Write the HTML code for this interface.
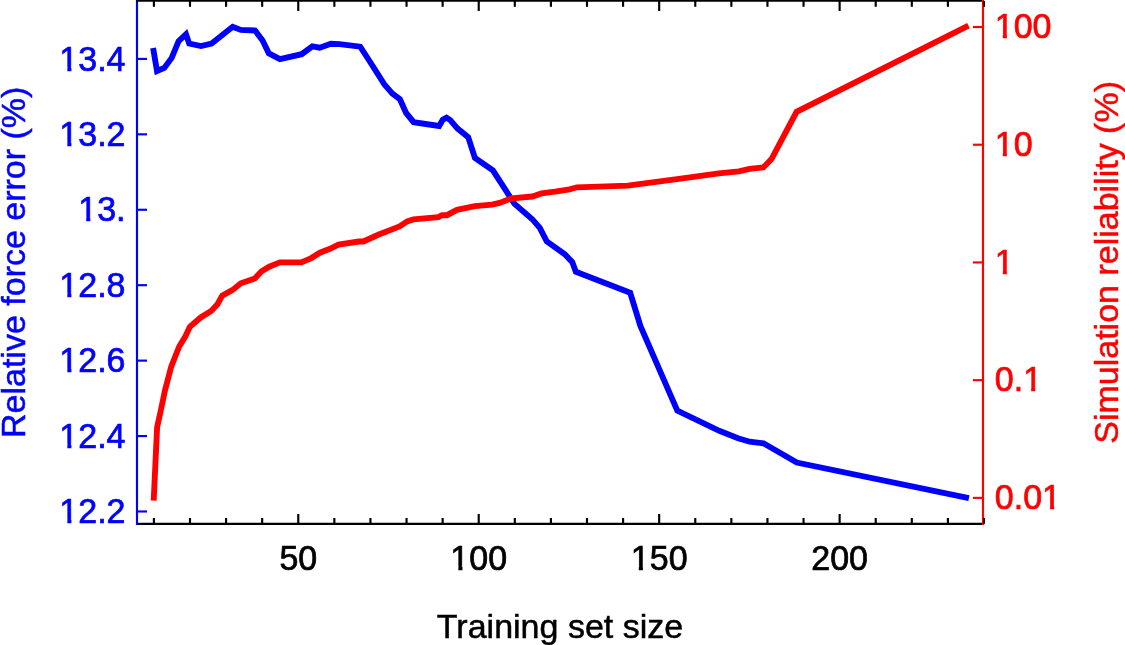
<!DOCTYPE html>
<html><head><meta charset="utf-8"><title>Training set size chart</title>
<style>
html,body{margin:0;padding:0;background:#fff;}
body{width:1125px;height:645px;overflow:hidden;}
svg{display:block;font-family:"Liberation Sans",Arial,Helvetica,sans-serif;}
</style></head><body>
<svg width="1125" height="645" viewBox="0 0 1125 645">
<rect x="0" y="0" width="1125" height="645" fill="#fff"/>
<line x1="136" y1="523.8" x2="984" y2="523.8" stroke="#000" stroke-width="2.15"/>
<line x1="153.90" y1="523.8" x2="153.90" y2="518.0" stroke="#000" stroke-width="2.15"/>
<line x1="189.99" y1="523.8" x2="189.99" y2="518.0" stroke="#000" stroke-width="2.15"/>
<line x1="226.08" y1="523.8" x2="226.08" y2="518.0" stroke="#000" stroke-width="2.15"/>
<line x1="262.17" y1="523.8" x2="262.17" y2="518.0" stroke="#000" stroke-width="2.15"/>
<line x1="298.26" y1="523.8" x2="298.26" y2="514.0" stroke="#000" stroke-width="2.15"/>
<line x1="334.36" y1="523.8" x2="334.36" y2="518.0" stroke="#000" stroke-width="2.15"/>
<line x1="370.45" y1="523.8" x2="370.45" y2="518.0" stroke="#000" stroke-width="2.15"/>
<line x1="406.54" y1="523.8" x2="406.54" y2="518.0" stroke="#000" stroke-width="2.15"/>
<line x1="442.63" y1="523.8" x2="442.63" y2="518.0" stroke="#000" stroke-width="2.15"/>
<line x1="478.72" y1="523.8" x2="478.72" y2="514.0" stroke="#000" stroke-width="2.15"/>
<line x1="514.81" y1="523.8" x2="514.81" y2="518.0" stroke="#000" stroke-width="2.15"/>
<line x1="550.90" y1="523.8" x2="550.90" y2="518.0" stroke="#000" stroke-width="2.15"/>
<line x1="586.99" y1="523.8" x2="586.99" y2="518.0" stroke="#000" stroke-width="2.15"/>
<line x1="623.08" y1="523.8" x2="623.08" y2="518.0" stroke="#000" stroke-width="2.15"/>
<line x1="659.17" y1="523.8" x2="659.17" y2="514.0" stroke="#000" stroke-width="2.15"/>
<line x1="695.26" y1="523.8" x2="695.26" y2="518.0" stroke="#000" stroke-width="2.15"/>
<line x1="731.36" y1="523.8" x2="731.36" y2="518.0" stroke="#000" stroke-width="2.15"/>
<line x1="767.45" y1="523.8" x2="767.45" y2="518.0" stroke="#000" stroke-width="2.15"/>
<line x1="803.54" y1="523.8" x2="803.54" y2="518.0" stroke="#000" stroke-width="2.15"/>
<line x1="839.63" y1="523.8" x2="839.63" y2="514.0" stroke="#000" stroke-width="2.15"/>
<line x1="875.72" y1="523.8" x2="875.72" y2="518.0" stroke="#000" stroke-width="2.15"/>
<line x1="911.81" y1="523.8" x2="911.81" y2="518.0" stroke="#000" stroke-width="2.15"/>
<line x1="947.90" y1="523.8" x2="947.90" y2="518.0" stroke="#000" stroke-width="2.15"/>
<line x1="137" y1="0" x2="137" y2="524.9" stroke="#0000ff" stroke-width="2.15"/>
<line x1="136" y1="0.7" x2="982" y2="0.7" stroke="#000" stroke-width="2.15"/>
<line x1="153.90" y1="0.7" x2="153.90" y2="6.8" stroke="#000" stroke-width="2.15"/>
<line x1="189.99" y1="0.7" x2="189.99" y2="6.8" stroke="#000" stroke-width="2.15"/>
<line x1="226.08" y1="0.7" x2="226.08" y2="6.8" stroke="#000" stroke-width="2.15"/>
<line x1="262.17" y1="0.7" x2="262.17" y2="6.8" stroke="#000" stroke-width="2.15"/>
<line x1="298.26" y1="0.7" x2="298.26" y2="11.0" stroke="#000" stroke-width="2.15"/>
<line x1="334.36" y1="0.7" x2="334.36" y2="6.8" stroke="#000" stroke-width="2.15"/>
<line x1="370.45" y1="0.7" x2="370.45" y2="6.8" stroke="#000" stroke-width="2.15"/>
<line x1="406.54" y1="0.7" x2="406.54" y2="6.8" stroke="#000" stroke-width="2.15"/>
<line x1="442.63" y1="0.7" x2="442.63" y2="6.8" stroke="#000" stroke-width="2.15"/>
<line x1="478.72" y1="0.7" x2="478.72" y2="11.0" stroke="#000" stroke-width="2.15"/>
<line x1="514.81" y1="0.7" x2="514.81" y2="6.8" stroke="#000" stroke-width="2.15"/>
<line x1="550.90" y1="0.7" x2="550.90" y2="6.8" stroke="#000" stroke-width="2.15"/>
<line x1="586.99" y1="0.7" x2="586.99" y2="6.8" stroke="#000" stroke-width="2.15"/>
<line x1="623.08" y1="0.7" x2="623.08" y2="6.8" stroke="#000" stroke-width="2.15"/>
<line x1="659.17" y1="0.7" x2="659.17" y2="11.0" stroke="#000" stroke-width="2.15"/>
<line x1="695.26" y1="0.7" x2="695.26" y2="6.8" stroke="#000" stroke-width="2.15"/>
<line x1="731.36" y1="0.7" x2="731.36" y2="6.8" stroke="#000" stroke-width="2.15"/>
<line x1="767.45" y1="0.7" x2="767.45" y2="6.8" stroke="#000" stroke-width="2.15"/>
<line x1="803.54" y1="0.7" x2="803.54" y2="6.8" stroke="#000" stroke-width="2.15"/>
<line x1="839.63" y1="0.7" x2="839.63" y2="11.0" stroke="#000" stroke-width="2.15"/>
<line x1="875.72" y1="0.7" x2="875.72" y2="6.8" stroke="#000" stroke-width="2.15"/>
<line x1="911.81" y1="0.7" x2="911.81" y2="6.8" stroke="#000" stroke-width="2.15"/>
<line x1="947.90" y1="0.7" x2="947.90" y2="6.8" stroke="#000" stroke-width="2.15"/>
<line x1="137" y1="58.90" x2="147" y2="58.90" stroke="#0000ff" stroke-width="2.15"/>
<line x1="137" y1="134.33" x2="147" y2="134.33" stroke="#0000ff" stroke-width="2.15"/>
<line x1="137" y1="209.76" x2="147" y2="209.76" stroke="#0000ff" stroke-width="2.15"/>
<line x1="137" y1="285.19" x2="147" y2="285.19" stroke="#0000ff" stroke-width="2.15"/>
<line x1="137" y1="360.62" x2="147" y2="360.62" stroke="#0000ff" stroke-width="2.15"/>
<line x1="137" y1="436.05" x2="147" y2="436.05" stroke="#0000ff" stroke-width="2.15"/>
<line x1="137" y1="511.48" x2="147" y2="511.48" stroke="#0000ff" stroke-width="2.15"/>
<line x1="983" y1="0" x2="983" y2="524.9" stroke="#ff0000" stroke-width="2.15"/>
<line x1="973" y1="27.00" x2="983" y2="27.00" stroke="#ff0000" stroke-width="2.15"/>
<line x1="973" y1="144.72" x2="983" y2="144.72" stroke="#ff0000" stroke-width="2.15"/>
<line x1="973" y1="262.44" x2="983" y2="262.44" stroke="#ff0000" stroke-width="2.15"/>
<line x1="973" y1="380.16" x2="983" y2="380.16" stroke="#ff0000" stroke-width="2.15"/>
<line x1="973" y1="497.88" x2="983" y2="497.88" stroke="#ff0000" stroke-width="2.15"/>
<line x1="984.1" y1="1.1" x2="984.1" y2="6.8" stroke="#000" stroke-width="1.9"/>
<line x1="984.1" y1="518" x2="984.1" y2="523.8" stroke="#000" stroke-width="1.9"/>
<path d="M153.1,48.0 L157.0,71.0 L164.3,67.9 L171.7,57.9 L178.6,41.1 L186.0,34.3 L189.2,43.6 L201.0,46.1 L211.6,43.6 L232.7,26.8 L240.8,29.9 L255.1,30.5 L262.6,40.5 L268.8,53.3 L279.9,59.2 L301.7,54.2 L312.3,46.3 L319.7,47.7 L330.9,43.8 L339.6,44.2 L360.2,46.7 L369.5,61.0 L384.3,84.3 L392.4,93.6 L399.9,99.2 L406.1,112.9 L413.6,122.2 L439.1,126.0 L442.8,119.7 L446.5,117.6 L450.3,120.1 L457.3,128.3 L468.2,137.2 L474.9,158.0 L492.9,170.4 L500.2,181.7 L514.3,203.6 L532.3,219.2 L539.8,227.9 L546.7,241.4 L564.8,254.3 L572.3,262.1 L575.8,271.7 L630.2,292.8 L640.4,325.9 L677.3,410.6 L719.3,430.8 L738.0,438.2 L749.7,441.7 L763.5,443.3 L796.8,462.5 L968.9,498.1" fill="none" stroke="#0000ff" stroke-width="5.85" stroke-linejoin="miter" stroke-miterlimit="4"/>
<path d="M153.7,500.7 L157.1,427.3 L161.1,409.0 L165.1,389.9 L171.2,366.7 L179.2,346.5 L185.3,336.5 L189.9,326.8 L200.4,317.7 L211.5,310.8 L217.5,304.2 L222.2,295.7 L232.7,289.9 L240.8,283.3 L254.8,278.5 L261.6,271.3 L269.3,266.7 L279.9,262.4 L301.4,262.4 L311.3,258.1 L319.9,252.7 L330.0,248.8 L338.5,244.6 L358.8,241.5 L363.4,241.5 L378.2,234.8 L399.6,226.4 L407.2,221.4 L413.4,219.4 L438.3,217.2 L442.2,215.2 L446.9,215.2 L457.0,209.8 L474.9,206.1 L492.0,204.6 L499.6,202.9 L511.5,198.4 L532.4,196.5 L541.5,193.4 L555.0,191.6 L569.5,189.3 L576.9,187.3 L627.8,185.7 L678.9,178.9 L718.9,173.3 L738.9,171.3 L749.5,168.8 L763.5,167.3 L771.5,159.0 L796.6,111.8 L968.5,25.7" fill="none" stroke="#ff0000" stroke-width="5.85" stroke-linejoin="miter" stroke-miterlimit="4"/>
<text transform="translate(125.5,70.5) scale(1,1.035)" text-anchor="end" fill="#0000ff" stroke="#0000ff" stroke-width="0.7" font-size="34">13.4</text>
<rect x="60.77" y="66.92" width="6.56" height="5.73" fill="#fff"/>
<rect x="71.43" y="66.92" width="6.29" height="5.73" fill="#fff"/>
<text transform="translate(125.5,145.9) scale(1,1.035)" text-anchor="end" fill="#0000ff" stroke="#0000ff" stroke-width="0.7" font-size="34">13.2</text>
<rect x="60.77" y="142.35" width="6.56" height="5.73" fill="#fff"/>
<rect x="71.43" y="142.35" width="6.29" height="5.73" fill="#fff"/>
<text transform="translate(125.5,221.4) scale(1,1.035)" text-anchor="end" fill="#0000ff" stroke="#0000ff" stroke-width="0.7" font-size="34">13.</text>
<rect x="79.68" y="217.78" width="6.56" height="5.73" fill="#fff"/>
<rect x="90.34" y="217.78" width="6.29" height="5.73" fill="#fff"/>
<text transform="translate(125.5,296.8) scale(1,1.035)" text-anchor="end" fill="#0000ff" stroke="#0000ff" stroke-width="0.7" font-size="34">12.8</text>
<rect x="60.77" y="293.21" width="6.56" height="5.73" fill="#fff"/>
<rect x="71.43" y="293.21" width="6.29" height="5.73" fill="#fff"/>
<text transform="translate(125.5,372.2) scale(1,1.035)" text-anchor="end" fill="#0000ff" stroke="#0000ff" stroke-width="0.7" font-size="34">12.6</text>
<rect x="60.77" y="368.64" width="6.56" height="5.73" fill="#fff"/>
<rect x="71.43" y="368.64" width="6.29" height="5.73" fill="#fff"/>
<text transform="translate(125.5,447.7) scale(1,1.035)" text-anchor="end" fill="#0000ff" stroke="#0000ff" stroke-width="0.7" font-size="34">12.4</text>
<rect x="60.77" y="444.07" width="6.56" height="5.73" fill="#fff"/>
<rect x="71.43" y="444.07" width="6.29" height="5.73" fill="#fff"/>
<text transform="translate(125.5,523.1) scale(1,1.035)" text-anchor="end" fill="#0000ff" stroke="#0000ff" stroke-width="0.7" font-size="34">12.2</text>
<rect x="60.77" y="519.50" width="6.56" height="5.73" fill="#fff"/>
<rect x="71.43" y="519.50" width="6.29" height="5.73" fill="#fff"/>
<text transform="translate(994.8,38.2) scale(1,1.035)" text-anchor="start" fill="#ff0000" stroke="#ff0000" stroke-width="0.7" font-size="34">100</text>
<rect x="996.24" y="34.67" width="6.56" height="5.73" fill="#fff"/>
<rect x="1006.90" y="34.67" width="6.29" height="5.73" fill="#fff"/>
<text transform="translate(994.8,156.0) scale(1,1.035)" text-anchor="start" fill="#ff0000" stroke="#ff0000" stroke-width="0.7" font-size="34">10</text>
<rect x="996.24" y="152.39" width="6.56" height="5.73" fill="#fff"/>
<rect x="1006.90" y="152.39" width="6.29" height="5.73" fill="#fff"/>
<text transform="translate(994.8,273.7) scale(1,1.035)" text-anchor="start" fill="#ff0000" stroke="#ff0000" stroke-width="0.7" font-size="34">1</text>
<rect x="996.24" y="270.11" width="6.56" height="5.73" fill="#fff"/>
<rect x="1006.90" y="270.11" width="6.29" height="5.73" fill="#fff"/>
<text transform="translate(994.8,391.4) scale(1,1.035)" text-anchor="start" fill="#ff0000" stroke="#ff0000" stroke-width="0.7" font-size="34">0.1</text>
<rect x="1024.60" y="387.83" width="6.56" height="5.73" fill="#fff"/>
<rect x="1035.26" y="387.83" width="6.29" height="5.73" fill="#fff"/>
<text transform="translate(994.8,509.1) scale(1,1.035)" text-anchor="start" fill="#ff0000" stroke="#ff0000" stroke-width="0.7" font-size="34">0.01</text>
<rect x="1043.50" y="505.55" width="6.56" height="5.73" fill="#fff"/>
<rect x="1054.17" y="505.55" width="6.29" height="5.73" fill="#fff"/>
<text transform="translate(298.3,569.8) scale(1,1.035)" text-anchor="middle" fill="#000" stroke="#000" stroke-width="0.7" font-size="34">50</text>
<text transform="translate(478.7,569.8) scale(1,1.035)" text-anchor="middle" fill="#000" stroke="#000" stroke-width="0.7" font-size="34">100</text>
<rect x="451.80" y="566.22" width="6.56" height="5.73" fill="#fff"/>
<rect x="462.46" y="566.22" width="6.29" height="5.73" fill="#fff"/>
<text transform="translate(659.2,569.8) scale(1,1.035)" text-anchor="middle" fill="#000" stroke="#000" stroke-width="0.7" font-size="34">150</text>
<rect x="632.25" y="566.22" width="6.56" height="5.73" fill="#fff"/>
<rect x="642.91" y="566.22" width="6.29" height="5.73" fill="#fff"/>
<text transform="translate(839.6,569.8) scale(1,1.035)" text-anchor="middle" fill="#000" stroke="#000" stroke-width="0.7" font-size="34">200</text>
<text transform="translate(560.0,638.3) scale(1,1.0)" text-anchor="middle" fill="#000" stroke="#000" stroke-width="0.5" font-size="34">Training set size</text>
<text transform="translate(24.9,262.3) rotate(-90) scale(1,1.0)" text-anchor="middle" fill="#0000ff" stroke="#0000ff" stroke-width="0.5" font-size="34">Relative force error (%)</text>
<text transform="translate(1118.3,262.4) rotate(-90) scale(1,1.0)" text-anchor="middle" fill="#ff0000" stroke="#ff0000" stroke-width="0.5" font-size="34">Simulation reliability (%)</text>
</svg>
</body></html>
